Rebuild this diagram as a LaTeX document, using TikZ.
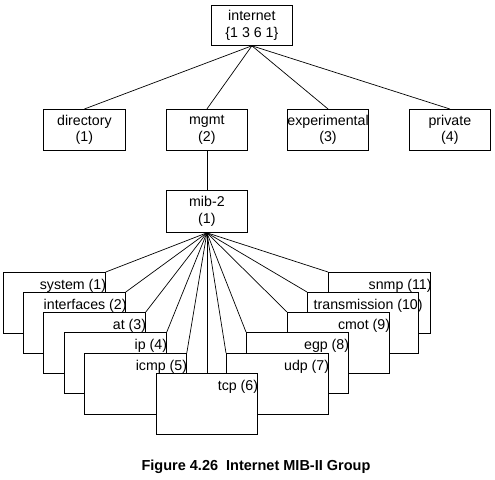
\documentclass[tikz,border=0pt]{standalone}
\usepackage{fontspec}
\setmainfont{Liberation Sans}
\usetikzlibrary{backgrounds}
\begin{document}
\begin{tikzpicture}[x=1pt,y=-1pt,
  box/.style={draw=black,fill=white,line width=0.8pt,inner sep=0pt,anchor=north west,
     font=\fontsize{14.2}{16.5}\selectfont,align=center},
  leafbox/.style={draw=black,fill=white,line width=0.8pt,inner sep=0pt,anchor=north west,
     minimum width=102pt,minimum height=61pt},
  leaflabel/.style={anchor=east,inner sep=0pt,font=\fontsize{14.2}{16.5}\selectfont},
  conn/.style={draw=black,line width=0.7pt}]
\useasboundingbox (0,0) rectangle (495,479);
% top level
\node[box,minimum width=81pt,minimum height=40pt] (internet) at (211,5) {internet\\\{1 3 6 1\}};
\node[box,minimum width=82pt,minimum height=41pt] (directory) at (43,109) {directory\\(1)};
\node[box,minimum width=81pt,minimum height=41pt] (mgmt) at (166,109) {mgmt\\(2)};
\node[box,minimum width=81pt,minimum height=41pt] (experimental) at (287,109) {experimental\\(3)};
\node[box,minimum width=81pt,minimum height=41pt] (private) at (409,109) {private\\(4)};
\node[box,minimum width=81pt,minimum height=42pt] (mib2) at (166,190) {mib-2\\(1)};
% leaves (back to front)
\node[leafbox] (system) at (3,272) {};
\node[leaflabel] (systemL) at ([xshift=0.5pt,yshift=-13.5pt]system.north east) {system (1)};
\node[leafbox] (snmp) at (328,272) {};
\node[leaflabel] (snmpL) at ([xshift=1pt,yshift=-13.5pt]snmp.north east) {snmp (11)};
\node[leafbox] (interfaces) at (23,292) {};
\node[leaflabel] (interfacesL) at ([xshift=1pt,yshift=-13.5pt]interfaces.north east) {interfaces (2)};
\node[leafbox,minimum width=111pt] (transmission) at (307,292) {};
\node[leaflabel] (transmissionL) at ([xshift=4pt,yshift=-13.5pt]transmission.north east) {transmission (10)};
\node[leafbox] (at) at (43,312) {};
\node[leaflabel] (atL) at ([xshift=0.5pt,yshift=-13.5pt]at.north east) {at (3)};
\node[leafbox] (cmot) at (287,312) {};
\node[leaflabel] (cmotL) at ([xshift=0.5pt,yshift=-13.5pt]cmot.north east) {cmot (9)};
\node[leafbox] (ip) at (64,332) {};
\node[leaflabel] (ipL) at ([xshift=0.5pt,yshift=-13.5pt]ip.north east) {ip (4)};
\node[leafbox] (egp) at (246,332) {};
\node[leaflabel] (egpL) at ([xshift=0.5pt,yshift=-13.5pt]egp.north east) {egp (8)};
\node[leafbox] (icmp) at (84,353) {};
\node[leaflabel] (icmpL) at ([xshift=0.5pt,yshift=-13.5pt]icmp.north east) {icmp (5)};
\node[leafbox] (udp) at (226,353) {};
\node[leaflabel] (udpL) at ([xshift=0.5pt,yshift=-13.5pt]udp.north east) {udp (7)};
\node[leafbox,minimum width=101pt] (tcp) at (156,373) {};
\node[leaflabel] (tcpL) at ([xshift=0.5pt,yshift=-13.5pt]tcp.north east) {tcp (6)};
% caption
\node[font=\fontsize{14.5}{17}\selectfont\bfseries,inner sep=0pt] (caption) at (256,467) {Figure 4.26\ \ Internet MIB-II Group};
% connectors
\begin{scope}[on background layer]
\draw[conn] (internet.south) -- (directory.north);
\draw[conn] (internet.south) -- (mgmt.north);
\draw[conn] (internet.south) -- (experimental.north);
\draw[conn] (internet.south) -- (private.north);
\draw[conn] (mgmt.south) -- (mib2.north);
\foreach \n in {system,interfaces,at,ip,icmp}
  \draw[conn] (mib2.south) -- (\n.north east);
\foreach \n in {snmp,transmission,cmot,egp,udp}
  \draw[conn] (mib2.south) -- (\n.north west);
\draw[conn] (mib2.south) -- (tcp.north);
\end{scope}
\end{tikzpicture}
\end{document}
